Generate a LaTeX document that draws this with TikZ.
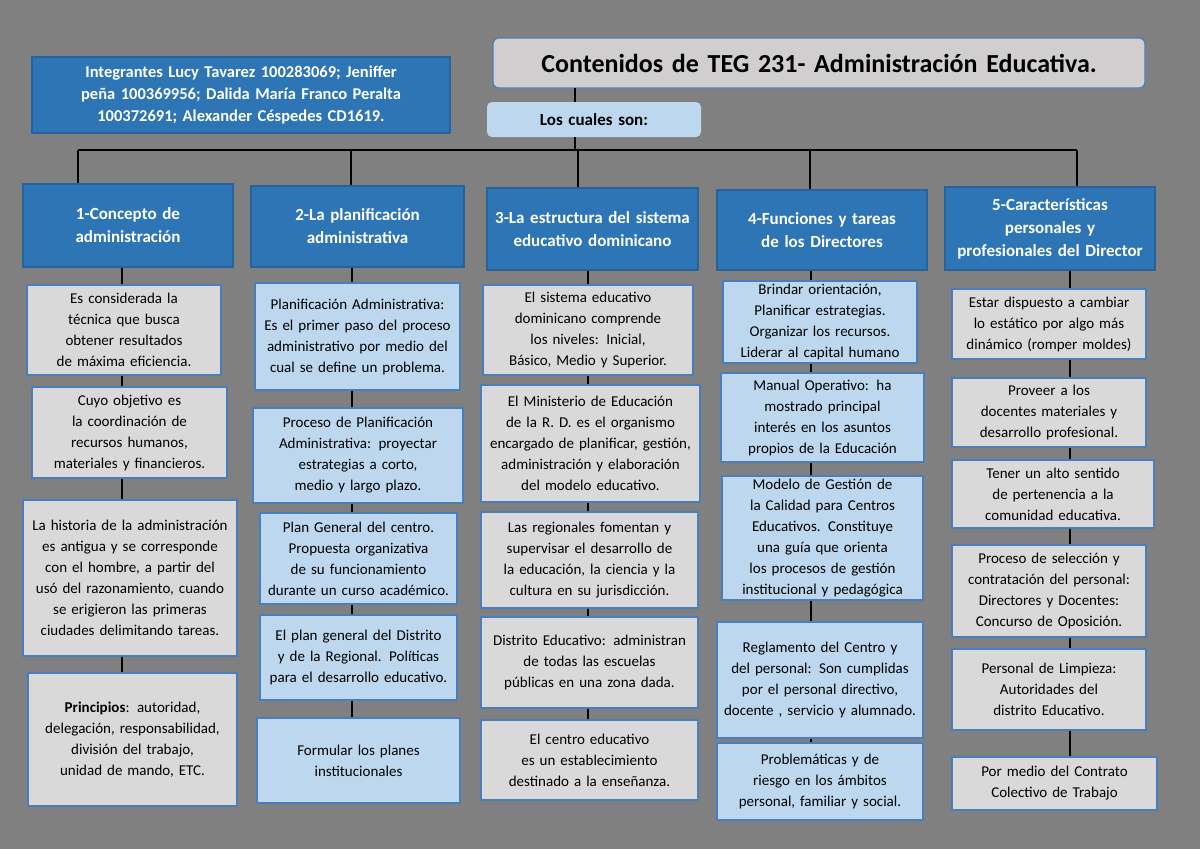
\documentclass[tikz,border=0pt]{standalone}
\usepackage{fontspec}
\setmainfont{Carlito}
\hyphenpenalty=10000
\exhyphenpenalty=10000
\begin{document}
\begin{tikzpicture}[x=1pt,y=-1pt,
  base/.style={draw=blueB,line width=1.2pt,align=center,inner sep=2pt,font=\fontsize{15}{21}\selectfont,text=black},
  gbox/.style={base,fill=grayB},
  lbox/.style={base,fill=lblue},
  hbox/.style={base,fill=hblue,draw=hblue!85!black,text=white,font=\bfseries\fontsize{17}{23}\selectfont},
  conn/.style={black,line width=2.2pt}]
\definecolor{bg}{HTML}{808080}
\definecolor{blueB}{HTML}{4A7EBB}
\definecolor{hblue}{HTML}{2E75B6}
\definecolor{grayB}{HTML}{D9D9D9}
\definecolor{lblue}{HTML}{BDD7EE}
\definecolor{tgray}{HTML}{D0CECE}
\fill[bg] (0,0) rectangle (1200,849);
\useasboundingbox (0,0) rectangle (1200,849);
\newcommand\bx[7]{%
  \pgfmathsetmacro\cx{(#3+#5)/2}\pgfmathsetmacro\cy{(#4+#6)/2}%
  \pgfmathsetmacro\ww{#5-#3}\pgfmathsetmacro\hh{#6-#4}\pgfmathsetmacro\tw{#5-#3-12}%
  \node[#2,minimum width=\ww pt,minimum height=\hh pt,text width=\tw pt] (#1) at (\cx,\cy) {#7};}
% top
\bx{team}{hbox,font=\bfseries\fontsize{16.5}{22}\selectfont}{32}{57}{450}{133}{Integrantes Lucy Tavarez 100283069; Jeniffer peña 100369956; Dalida María Franco Peralta\ \ 100372691; Alexander Céspedes CD1619.}
\bx{title}{base,fill=tgray,rounded corners=6pt,font=\bfseries\fontsize{26}{30}\selectfont}{493}{38}{1145}{88}{Contenidos de TEG 231- Administración Educativa.}
\bx{cuales}{base,fill=lblue,draw=none,rounded corners=5pt,font=\bfseries\fontsize{17}{20}\selectfont}{487}{102}{701}{137}{Los cuales son:}
\coordinate (bL) at (78,150); \coordinate (bR) at (1077,150);
\draw[conn] (575,88) -- (575,102);
\draw[conn] (575,137) -- (575,150);
\draw[conn] (bL) -- (bR);
% headers
\bx{h1}{hbox}{23}{184}{233}{267}{1-Concepto de administración}
\bx{h2}{hbox}{251}{186}{464}{267}{2-La planificación administrativa}
\bx{h3}{hbox}{487}{188}{698}{270}{3-La estructura del sistema educativo dominicano}
\bx{h4}{hbox}{717}{190}{927}{270}{4-Funciones y tareas de los Directores}
\bx{h5}{hbox}{945}{187}{1155}{270}{5-Características personales y profesionales del Director}
\foreach \x/\h in {78/h1,351/h2,578/h3,810/h4,1077/h5}{\draw[conn] (\x,150) -- (\h.north -| \x,0);}
% col1
\bx{a1}{gbox}{27}{285}{221}{375}{Es considerada la técnica que busca obtener resultados de máxima eficiencia.}
\bx{a2}{gbox}{32}{387}{227}{478}{Cuyo objetivo es la coordinación de recursos humanos, materiales y financieros.}
\bx{a3}{gbox}{23}{500}{237}{656}{La historia de la administración es antigua y se corresponde con el hombre, a partir del usó del razonamiento, cuando se erigieron las primeras ciudades delimitando tareas.}
\bx{a4}{gbox}{28}{673}{237}{806}{\textbf{Principios}: autoridad, delegación, responsabilidad, división del trabajo, unidad de mando, ETC.}
% col2
\bx{b1}{lbox}{255}{283}{460}{390}{Planificación Administrativa: Es el primer paso del proceso administrativo por medio del cual se define un problema.}
\bx{b2}{lbox}{253}{408}{463}{503}{Proceso de Planificación Administrativa: proyectar estrategias a corto, medio y largo plazo.}
\bx{b3}{lbox}{260}{513}{457}{604}{Plan General del centro. Propuesta organizativa\ de su funcionamiento durante un curso académico.}
\bx{b4}{lbox}{260}{615}{457}{700}{El plan general del Distrito y de la Regional. Políticas para el desarrollo educativo.}
\bx{b5}{lbox}{257}{718}{460}{803}{Formular los planes institucionales}
% col3
\bx{c1}{gbox}{483}{285}{693}{375}{El sistema educativo dominicano comprende los niveles: Inicial, Básico, Medio y Superior.}
\bx{c2}{gbox}{481}{385}{700}{502}{El Ministerio de Educación de la R. D. es el organismo encargado de planificar, gestión, administración y elaboración del modelo educativo.}
\bx{c3}{gbox}{481}{512}{698}{608}{Las regionales fomentan y supervisar el desarrollo de la educación, la ciencia y la cultura en su jurisdicción.}
\bx{c4}{gbox}{481}{617}{698}{708}{Distrito Educativo: administran de todas las escuelas públicas en una zona dada.}
\bx{c5}{gbox}{481}{720}{698}{800}{El centro educativo es un establecimiento destinado a la enseñanza.}
% col4
\bx{d1}{lbox}{723}{281}{917}{363}{Brindar orientación, Planificar estrategias. Organizar los recursos. Liderar al capital humano}
\bx{d2}{lbox}{721}{373}{924}{462}{Manual Operativo: ha mostrado principal interés en los asuntos propios de la Educación}
\bx{d3}{lbox}{722}{476}{923}{600}{Modelo de Gestión de la Calidad para Centros Educativos. Constituye una guía que orienta los procesos de gestión institucional y pedagógica}
\bx{d4}{lbox}{717}{622}{923}{738}{Reglamento del Centro y del personal: Son cumplidas por el personal directivo, docente , servicio y alumnado.}
\bx{d5}{lbox}{717}{743}{923}{820}{Problemáticas y de riesgo en los ámbitos personal, familiar y social.}
% col5
\bx{e1}{gbox}{952}{289}{1146}{359}{Estar dispuesto a cambiar lo estático por algo más dinámico (romper moldes)}
\bx{e2}{gbox}{952}{378}{1146}{447}{Proveer a los docentes materiales y desarrollo profesional.}
\bx{e3}{gbox}{952}{460}{1154}{528}{Tener un alto sentido de pertenencia a la comunidad educativa.}
\bx{e4}{gbox}{952}{545}{1146}{637}{Proceso de selección y contratación del personal: Directores y Docentes: Concurso de Oposición.}
\bx{e5}{gbox}{952}{649}{1146}{730}{Personal de Limpieza: Autoridades del distrito Educativo.}
\bx{e6}{gbox}{952}{757}{1157}{810}{Por medio del Contrato Colectivo de Trabajo}
% vertical connectors
\newcommand\vc[3]{\draw[conn] (#2.south -| #1,0) -- (#3.north -| #1,0);}
\vc{122}{h1}{a1}\vc{122}{a1}{a2}\vc{122}{a2}{a3}\vc{122}{a3}{a4}
\vc{352}{h2}{b1}\vc{352}{b1}{b2}\vc{352}{b2}{b3}\vc{352}{b3}{b4}\vc{352}{b4}{b5}
\vc{588}{h3}{c1}\vc{588}{c1}{c2}\vc{588}{c2}{c3}\vc{588}{c3}{c4}\vc{588}{c4}{c5}
\vc{811}{h4}{d1}\vc{811}{d1}{d2}\vc{811}{d2}{d3}\vc{811}{d3}{d4}\vc{811}{d4}{d5}
\vc{1070}{h5}{e1}\vc{1070}{e1}{e2}\vc{1070}{e2}{e3}\vc{1070}{e3}{e4}\vc{1070}{e4}{e5}\vc{1070}{e5}{e6}
\end{tikzpicture}
\end{document}
